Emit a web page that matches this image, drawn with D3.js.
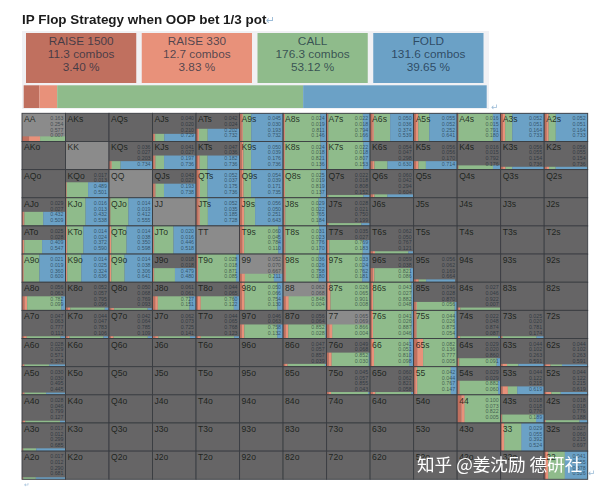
<!DOCTYPE html>
<html><head><meta charset="utf-8">
<script src="https://cdn.jsdelivr.net/npm/d3@7/dist/d3.min.js"></script>
<style>
html,body{margin:0;padding:0;background:#fff}
svg{display:block;filter:blur(0.45px)}
text{font-family:"Liberation Sans",Arial,sans-serif}
</style></head><body>
<svg id="c" width="600" height="489"></svg>
<script>
const titleText = "IP Flop Strategy when OOP bet 1/3 pot";
const ranks = ["A","K","Q","J","T","9","8","7","6","5","4","3","2"];
const actions = ["RAISE 1500","RAISE 330","CALL","FOLD"];
const combos = [11.3,12.7,176.3,131.6];
const percents = [3.40,3.83,53.12,39.65];
const watermark = "知乎 @姜沈励 德研社";

// each hand: [raise1500, raise330, call, fold, share of the hand in range]; 0 = not in range
const rowA = [[.163,.254,.577,.007,.18],0,0,[.040,.020,.210,.729,.27],[.042,.024,.202,.732,.45],[.045,.030,.193,.732,1],[.024,.019,.811,.146,1],[.022,.018,.794,.166,1],[.050,.036,.374,.539,1],[.055,.052,.252,.641,1],[.016,.015,.791,.180,1],[.052,.051,.164,.733,1],[.052,.051,.164,.733,1]];
const rowK = [0,0,[.036,.027,.203,.734,.3],[.041,.027,.197,.736,.5],[.047,.036,.182,.736,.5],[.050,.039,.176,.736,1],[.024,.018,.821,.136,1],[.022,.018,.807,.153,1],[.054,.047,.298,.630,.3],[.056,.056,.170,.714,.3],[.016,.015,.792,.176,.15],[.056,.055,.154,.736,.1],[.056,.055,.154,.736,.1]];
const rowQ = [0,[.017,.013,.489,.501,.55],0,[.043,.027,.193,.738,.5],[.052,.037,.175,.736,1],[.054,.039,.171,.735,1],[.025,.019,.819,.137,1],[.022,.018,.808,.152,.1],[.060,.042,.294,.604,.12],0,0,0,0];
const rowJ = [[.029,.027,.432,.509,.5],[.016,.013,.432,.538,1],[.014,.019,.412,.555,1],0,[.052,.035,.185,.728,1],[.056,.050,.251,.643,1],[.029,.022,.765,.184,1],[.028,.021,.750,.199,.1],0,0,0,0,0];
const rowT = [[.025,.028,.409,.547,.5],[.014,.024,.372,.590,1],[.014,.038,.350,.598,1],[.020,.016,.446,.518,1],0,[.060,.045,.784,.110,1],[.031,.023,.776,.170,1],[.035,.027,.769,.183,.5],[.062,.050,.767,.121,.1],0,0,0,0];
const row9 = [[.021,.019,.360,.600,1],[.014,.025,.324,.636,1],[.014,.038,.306,.641,1],[.018,.018,.479,.480,.5],[.028,.018,.871,.085,1],[.052,.070,.667,.211,.3],[.036,.026,.758,.180,1],[.033,.024,.762,.181,1],[.059,.038,.821,.086,.5],[.056,.062,.169,.664,.1],0,0,0];
const row8 = [[.056,.063,.782,.099,.5],[.052,.057,.795,.096,.1],[.050,.068,.769,.093,.08],[.061,.061,.727,.151,.5],[.044,.065,.760,.122,.5],[.050,.066,.754,.130,1],[.062,.068,.848,.004,.5],[.026,.065,.901,.008,1],[.043,.027,.882,.048,1],[.046,.028,.870,.056,.3],[.027,.046,.922,.007,.1],0,0];
const row7 = [[.047,.063,.777,.113,.08],[.044,.047,.783,.106,.08],[.042,.064,.785,.109,.08],[.062,.073,.725,.141,.08],[.044,.065,.768,.123,.08],[.046,.063,.758,.132,.5],[.056,.064,.852,.028,.5],[.065,.069,.866,.004,.5],[.041,.026,.887,.046,1],[.044,.026,.875,.054,1],[.022,.048,.874,.087,.08],[.025,.020,.781,.174,.08],0];
const row6 = [[.028,.029,.571,.374,.08],0,0,0,0,0,[.047,.057,.857,.039,.1],[.049,.068,.852,.030,.5],[.041,.051,.810,.098,1],[.082,.136,.777,.005,1],[.029,.020,.860,.091,.3],[.044,.102,.263,.591,.1],[.044,.102,.263,.591,.08]];
const row5 = [[.030,.030,.495,.445,.08],0,0,0,0,0,0,[.045,.057,.855,.043,.1],[.060,.062,.821,.058,.1],[.042,.044,.767,.147,1],[.029,.029,.882,.060,.5],[.044,.122,.215,.619,.3],[.044,.122,.215,.619,.1]];
const row4 = [[.028,.046,.799,.127,.08],0,0,0,0,0,0,0,0,0,[.100,.073,.822,.005,1],[.018,.018,.776,.189,.3],[.018,.018,.776,.188,.1]];
const row3 = [[.017,.012,.299,.685,.1],0,0,0,0,0,0,0,0,0,0,[.029,.055,.392,.524,1],[.027,.060,.215,.697,.02]];
const row2 = [[.017,.012,.290,.681,.07],0,0,0,0,0,0,0,0,0,0,0,[.041,.055,.378,.526,1]];
const grid = [rowA,rowK,rowQ,rowJ,rowT,row9,row8,row7,row6,row5,row4,row3,row2];

const actionColor = d3.scaleOrdinal().domain(actions).range(["#c0705f","#e8917a","#8fbb8b","#6ba1c6"]);
const svg = d3.select("#c");

// title
svg.append("text").attr("x",22).attr("y",24).attr("font-size",13.45).attr("font-weight",700)
   .attr("fill","#1b1b1b").text(titleText);
const mark = (x,y,s)=>svg.append("text").attr("x",x).attr("y",y).attr("font-size",s)
   .style("font-family","DejaVu Sans").attr("fill","#9cbcd8").text("↵");
mark(266,24,11); mark(491,110,9); mark(588,476,9); mark(24,486.5,6.5);

// legend panel
svg.append("rect").attr("x",22).attr("y",31).attr("width",467).attr("height",78).attr("fill","#f1f1f4");
const legendX = d3.scaleBand().domain(actions).range([26,483.5]).paddingInner(0.0475);
const lg = svg.selectAll("g.lg").data(actions).join("g").attr("class","lg")
   .attr("transform",d=>`translate(${legendX(d)},33)`);
lg.append("rect").attr("width",legendX.bandwidth()).attr("height",50).attr("fill",d=>actionColor(d));
const lcx = legendX.bandwidth()/2;
const lt = (y,fn)=>lg.append("text").attr("x",lcx).attr("y",y).attr("text-anchor","middle")
   .attr("font-size",11.8).attr("fill","#14283c").attr("fill-opacity",.72).text(fn);
lt(11.5,d=>d);
lt(24.5,(d,i)=>combos[i].toFixed(1)+" combos");
lt(37.5,(d,i)=>percents[i].toFixed(2)+" %");

// overall bar
const barX = d3.scaleLinear().domain([0,100]).range([23.7,486.7]);
let acc = 0;
const stackTotal = percents.map(p=>{const a=[acc,acc+p];acc+=p;return a;});
svg.selectAll("rect.tot").data(actions).join("rect").attr("class","tot")
   .attr("x",(d,i)=>barX(stackTotal[i][0])).attr("y",85.3).attr("height",22.7)
   .attr("width",(d,i)=>barX(stackTotal[i][1])-barX(stackTotal[i][0]))
   .attr("fill",d=>actionColor(d));

// hand matrix
const x = d3.scaleBand().domain(d3.range(13)).range([22,587.7]);
const y = d3.scaleBand().domain(d3.range(13)).range([113.3,479.3]);
const fmt = d3.format(".3f");
const cw = x.bandwidth(), ch = y.bandwidth();
const share = d3.scaleLinear().domain([0,1]).range([0,cw]);
const depth = d3.scaleLinear().domain([0,1]).range([0,ch]);
const label = (r,c)=> r===c ? ranks[r]+ranks[c] : r<c ? ranks[r]+ranks[c]+"s" : ranks[c]+ranks[r]+"o";

const hands = grid.flatMap((row,r)=>row.map((v,c)=>({r,c,v,name:label(r,c)})));
const cell = svg.selectAll("g.cell").data(hands).join("g").attr("class","cell")
   .attr("transform",d=>`translate(${x(d.c)},${y(d.r)})`);
cell.append("rect").attr("width",cw).attr("height",ch)
   .attr("fill",d=>d.r===d.c?"#8b8b8b":"#666566");
cell.each(function(d){
  if(!d.v) return;
  const g = d3.select(this);
  const h = depth(d.v[4]);
  let a = 0;
  actions.forEach((act,i)=>{
    g.append("rect").attr("x",share(a)).attr("y",ch-h)
     .attr("width",share(d.v[i])).attr("height",h).attr("fill",actionColor(act));
    a += d.v[i];
  });
  [0,1,2,3].forEach(i=>{
    g.append("text").attr("x",cw-2).attr("y",7.2+i*5.65).attr("text-anchor","end")
     .attr("font-size",5.3).attr("fill","#0b1a26").attr("fill-opacity",.6).text(fmt(d.v[i]));
  });
});
cell.append("rect").attr("width",cw).attr("height",ch).attr("fill","none")
   .attr("stroke","#3a3d42").attr("stroke-width",.9);
cell.append("text").attr("x",2).attr("y",9).attr("font-size",8.6)
   .attr("fill","#101510").attr("fill-opacity",.85).text(d=>d.name);

// watermark
svg.append("text").attr("x",417).attr("y",471).attr("font-size",17.6)
   .style("font-family","'Noto Sans CJK SC'").attr("fill","#fff").text(watermark);
</script>
</body></html>
